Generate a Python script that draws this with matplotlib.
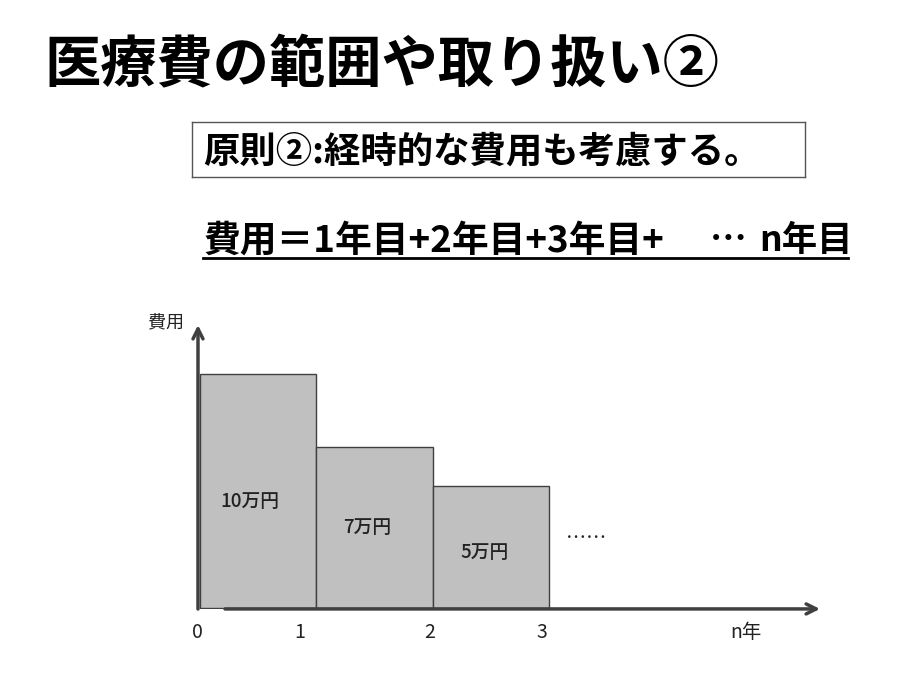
import matplotlib
matplotlib.use("Agg")
import matplotlib.pyplot as plt

plt.rcParams['font.family'] = ['Noto Sans CJK JP', 'DejaVu Sans']

# Data
years = [0, 1, 2]
costs = [10, 6.9, 5.2]            # bar heights as drawn
cost_labels = ["10万円", "7万円", "5万円"]
tick_labels = ["0", "1", "2", "3"]
title = "医療費の範囲や取り扱い②"
principle = "原則②:経時的な費用も考慮する。"
formula_a = "費用＝1年目+2年目+3年目+"
formula_b = "…"
formula_c = "n年目"

W, H = 900, 675
fig = plt.figure(figsize=(W / 100, H / 100), dpi=100)
fig.patch.set_facecolor("white")

def fx(px):
    return px / W

def fy(py):
    return 1 - py / H

# Title and header texts
fig.text(fx(44), fy(66), title, fontsize=40.5, fontweight="bold", va="center", ha="left", color="black")

box_ax = fig.add_axes([fx(192), fy(177), fx(805) - fx(192), fy(122) - fy(177)])
box_ax.set_xticks([]); box_ax.set_yticks([])
for s in box_ax.spines.values():
    s.set_color("#555555"); s.set_linewidth(1.0)
fig.text(fx(203), fy(152), principle, fontsize=26.2, fontweight="bold", va="center", ha="left", color="black")

fig.text(fx(203), fy(241), formula_a, fontsize=26.5, fontweight="bold", va="center", ha="left", color="black")
fig.text(fx(728), fy(241), formula_b, fontsize=26.5, fontweight="bold", va="center", ha="center", color="black")
fig.text(fx(759), fy(241), formula_c, fontsize=25.5, fontweight="bold", va="center", ha="left", color="black")
fig.add_artist(plt.Line2D([fx(203), fx(848)], [fy(258), fy(258)], color="black", lw=2, transform=fig.transFigure))

# Chart axes: pixel box x 198..820, y 325..609
ax = fig.add_axes([fx(198), fy(609), fx(820) - fx(198), fy(325) - fy(609)])
px_per_x = 116.3
px_per_y = 23.4
ax.set_xlim(-2 / px_per_x, (820 - 200) / px_per_x)
ax.set_ylim(-1 / px_per_y, (608 - 325) / px_per_y)
ax.axis("off")

ax.bar(years, costs, width=1.0, align="edge", color="#c0c0c0", edgecolor="#404040", linewidth=1.0, zorder=2)
label_pos = [(0.43, 4.53), (1.44, 3.42), (2.45, 2.39)]
for (lx, ly), lab in zip(label_pos, cost_labels):
    ax.text(lx, ly, lab, fontsize=13.5, fontweight="medium", ha="center", va="center", color="#222222", zorder=3)

ax.text(3.32, 2.98, "……", fontsize=14.5, ha="center", va="center", color="#222222")

# Axis arrows
x0 = -2 / px_per_x
ax.annotate("", xy=(x0, (608 - 325) / px_per_y), xytext=(x0, -1 / px_per_y),
            arrowprops=dict(arrowstyle="->", color="#404040", lw=2.5, mutation_scale=18, shrinkA=0, shrinkB=0),
            annotation_clip=False)
ax.annotate("", xy=((820 - 200) / px_per_x, -0.04), xytext=(25 / px_per_x, -0.04),
            arrowprops=dict(arrowstyle="->", color="#404040", lw=2.5, mutation_scale=18, shrinkA=0, shrinkB=0),
            annotation_clip=False)

# Tick labels and axis labels (figure pixel positions)
tick_px = [197, 300, 430, 542]
for px, lab in zip(tick_px, tick_labels):
    fig.text(fx(px), fy(632), lab, fontsize=14, ha="center", va="center", color="#222222")
fig.text(fx(746), fy(632), "n年", fontsize=14, ha="center", va="center", color="#222222")
fig.text(fx(166), fy(322), "費用", fontsize=13, ha="center", va="center", color="#222222")

fig.savefig("out.png", dpi=100, facecolor="white")
